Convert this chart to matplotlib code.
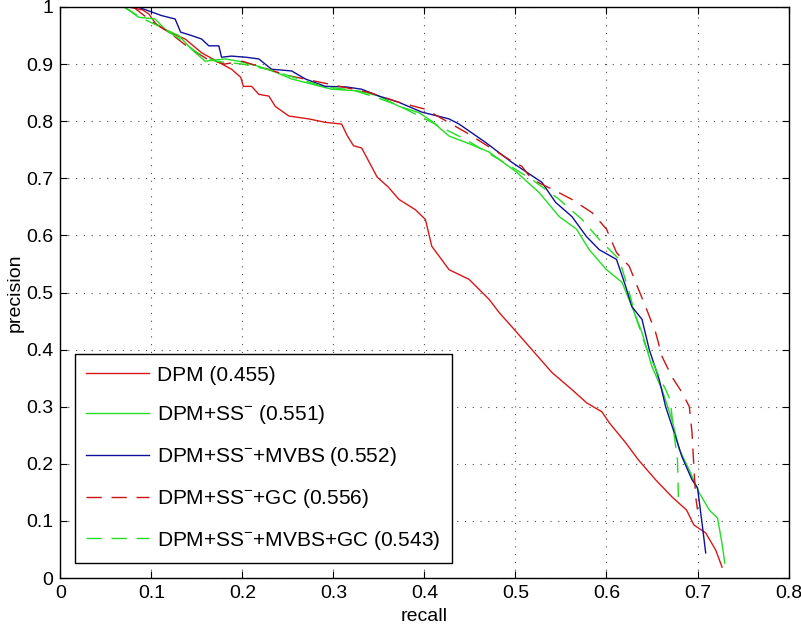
import matplotlib
matplotlib.use('Agg')
import matplotlib.pyplot as plt
import numpy as np

plt.rcParams['font.family'] = ['Liberation Sans', 'DejaVu Sans']
plt.rcParams['mathtext.fontset'] = 'custom'
plt.rcParams['mathtext.rm'] = 'Liberation Sans'

# DPM
dpm_r = [0.075, 0.09, 0.097, 0.105, 0.119, 0.137, 0.155, 0.174, 0.188, 0.198, 0.201, 0.210, 0.218,
         0.229, 0.236, 0.251, 0.273, 0.291, 0.309, 0.315, 0.322, 0.331, 0.341, 0.348, 0.360, 0.372,
         0.390, 0.401, 0.408, 0.427, 0.449, 0.471, 0.482, 0.496, 0.518, 0.540, 0.562, 0.578, 0.595,
         0.603, 0.621, 0.635, 0.654, 0.672, 0.688, 0.696, 0.709, 0.720, 0.727]
dpm_p = [1.0, 0.995, 0.988, 0.970, 0.956, 0.944, 0.920, 0.903, 0.891, 0.877, 0.861, 0.861, 0.847,
         0.844, 0.826, 0.809, 0.804, 0.798, 0.795, 0.775, 0.757, 0.753, 0.723, 0.702, 0.685, 0.663,
         0.645, 0.628, 0.581, 0.540, 0.523, 0.488, 0.465, 0.440, 0.400, 0.360, 0.330, 0.307, 0.291,
         0.272, 0.237, 0.207, 0.172, 0.142, 0.119, 0.093, 0.079, 0.049, 0.019]

# DPM+SS-
ss_r = [0.07, 0.086, 0.104, 0.115, 0.130, 0.144, 0.159, 0.181, 0.196, 0.218, 0.236, 0.254, 0.276,
        0.298, 0.328, 0.350, 0.372, 0.394, 0.408, 0.427, 0.450, 0.471, 0.501, 0.526, 0.548, 0.567,
        0.581, 0.600, 0.617, 0.628, 0.639, 0.650, 0.661, 0.672, 0.680, 0.691, 0.702, 0.713, 0.722,
        0.727, 0.730]
ss_p = [1.0, 0.982, 0.979, 0.961, 0.950, 0.926, 0.905, 0.909, 0.905, 0.896, 0.886, 0.874, 0.865,
        0.856, 0.853, 0.844, 0.826, 0.815, 0.800, 0.774, 0.760, 0.746, 0.711, 0.675, 0.633, 0.611,
        0.575, 0.540, 0.518, 0.475, 0.430, 0.370, 0.330, 0.277, 0.225, 0.189, 0.149, 0.119, 0.105,
        0.060, 0.026]

# DPM+SS-+MVBS
mvbs_r = [0.085, 0.111, 0.126, 0.132, 0.144, 0.155, 0.163, 0.174, 0.177, 0.188, 0.204, 0.218, 0.232,
          0.254, 0.269, 0.291, 0.314, 0.331, 0.350, 0.372, 0.397, 0.427, 0.438, 0.467, 0.496, 0.529,
          0.544, 0.562, 0.578, 0.592, 0.611, 0.621, 0.628, 0.639, 0.647, 0.658, 0.665, 0.676, 0.683,
          0.694, 0.700, 0.705, 0.709]
mvbs_p = [1.0, 0.985, 0.979, 0.956, 0.950, 0.944, 0.932, 0.932, 0.912, 0.914, 0.912, 0.909, 0.891,
          0.888, 0.874, 0.861, 0.860, 0.856, 0.844, 0.833, 0.816, 0.804, 0.795, 0.763, 0.728, 0.693,
          0.658, 0.633, 0.598, 0.575, 0.558, 0.511, 0.475, 0.453, 0.400, 0.347, 0.300, 0.247, 0.212,
          0.172, 0.158, 0.096, 0.044]

# DPM+SS-+GC
gc_r = [0.08, 0.10, 0.12, 0.14, 0.16, 0.18, 0.20, 0.22, 0.25, 0.28, 0.31, 0.34, 0.372, 0.401, 0.445,
        0.493, 0.507, 0.518, 0.544, 0.562, 0.584, 0.600, 0.611, 0.625, 0.632, 0.643, 0.654, 0.661,
        0.672, 0.683, 0.691, 0.694, 0.696, 0.698, 0.700]
gc_p = [1.0, 0.975, 0.955, 0.930, 0.910, 0.900, 0.905, 0.895, 0.880, 0.870, 0.860, 0.850, 0.833,
        0.821, 0.781, 0.733, 0.721, 0.698, 0.678, 0.663, 0.640, 0.611, 0.570, 0.546, 0.518, 0.475,
        0.430, 0.388, 0.352, 0.325, 0.300, 0.254, 0.195, 0.142, 0.120]

# DPM+SS-+MVBS+GC
all_r = [0.07, 0.09, 0.11, 0.13, 0.15, 0.17, 0.20, 0.23, 0.26, 0.29, 0.32, 0.35, 0.372, 0.408, 0.445,
         0.482, 0.518, 0.548, 0.573, 0.592, 0.614, 0.625, 0.632, 0.643, 0.658, 0.665, 0.670, 0.674,
         0.678, 0.679]
all_p = [1.0, 0.980, 0.965, 0.945, 0.920, 0.905, 0.900, 0.890, 0.875, 0.860, 0.855, 0.840, 0.827,
         0.798, 0.768, 0.733, 0.698, 0.663, 0.628, 0.593, 0.558, 0.500, 0.458, 0.406, 0.352, 0.330,
         0.312, 0.254, 0.207, 0.142]

labels = ['DPM (0.455)',
          r'DPM+SS$^{-}$ (0.551)',
          r'DPM+SS$^{-}$+MVBS (0.552)',
          r'DPM+SS$^{-}$+GC (0.556)',
          r'DPM+SS$^{-}$+MVBS+GC (0.543)']

red = '#d81818'
green = '#22dd22'
blue = '#10109a'
dash = (0, (11, 7))

fig = plt.figure(figsize=(8.01, 6.3), dpi=100)
ax = fig.add_axes([0.0755, 0.0825, 0.9089, 0.9064])

ax.plot(dpm_r, dpm_p, color=red, lw=1.0, label=labels[0])
ax.plot(ss_r, ss_p, color=green, lw=1.0, label=labels[1])
ax.plot(mvbs_r, mvbs_p, color=blue, lw=1.0, label=labels[2])
ax.plot(gc_r, gc_p, color='#c81414', lw=1.0, linestyle=dash, label=labels[3])
ax.plot(all_r, all_p, color=green, lw=1.0, linestyle=dash, label=labels[4])

ax.set_xlim(0, 0.8)
ax.set_ylim(0, 1)
ax.set_xticks(np.arange(0, 0.81, 0.1))
ax.set_yticks(np.arange(0, 1.01, 0.1))
ax.set_xticklabels(['0', '0.1', '0.2', '0.3', '0.4', '0.5', '0.6', '0.7', '0.8'])
ax.set_yticklabels(['0', '0.1', '0.2', '0.3', '0.4', '0.5', '0.6', '0.7', '0.8', '0.9', '1'])
ax.tick_params(direction='in', length=5, width=0.8, top=True, right=True, labelsize=14, pad=5)
ax.grid(True, color='0.3', linestyle=(0, (1, 6)), linewidth=0.8)
for s in ax.spines.values():
    s.set_linewidth(1.0)

ax.set_xlabel('recall', fontsize=14, labelpad=4)
ax.set_ylabel('precision', fontsize=14, labelpad=2)

leg = ax.legend(loc='lower left', bbox_to_anchor=(0.02, 0.026), borderaxespad=0, fontsize=15,
                handlelength=3.0, handletextpad=0.38, labelspacing=0.9, fancybox=False,
                framealpha=1, borderpad=0.55)
leg.get_frame().set_edgecolor('black')
leg.get_frame().set_linewidth(1.0)

fig.savefig('out.png', dpi=100)
